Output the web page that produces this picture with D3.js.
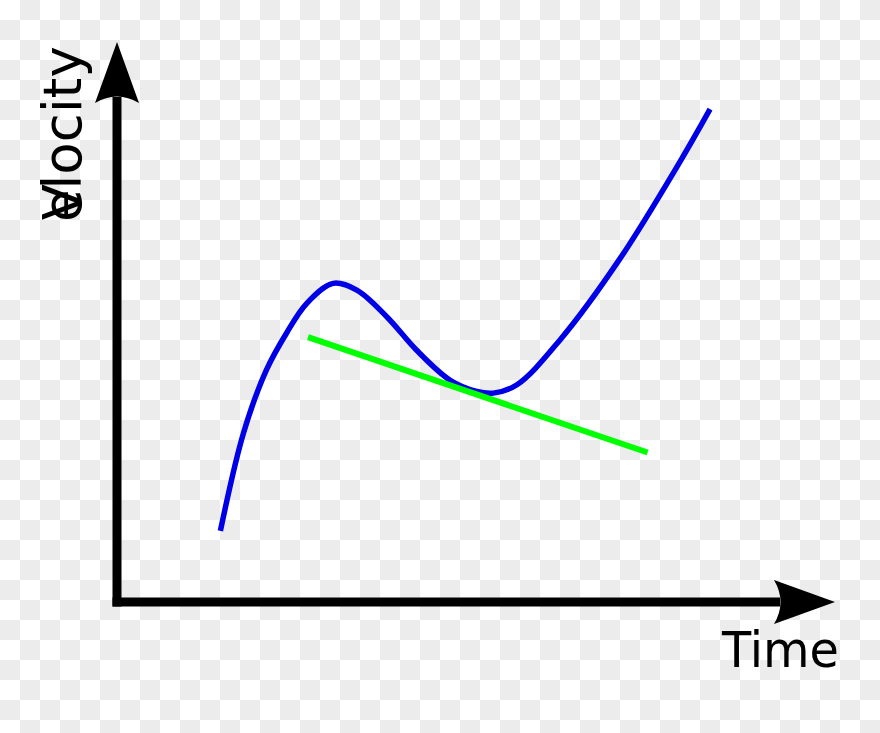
<!DOCTYPE html>
<html>
<head>
<meta charset="utf-8">
<script src="https://cdn.jsdelivr.net/npm/d3@7"></script>
<style>
  html, body { margin: 0; padding: 0; background: #fff; }
  svg { display: block; }
</style>
</head>
<body>
<svg id="chart"></svg>
<script>
// velocity curve (time in s, velocity in m/s)
const curveTime = [1.44, 1.76, 2.08, 2.36, 2.64, 3.01, 3.34, 3.76, 4.17, 4.64, 5.01, 5.24, 5.57, 6.17, 7.01, 7.84, 8.26];
const curveVelocity = [1.27, 3.01, 4.14, 4.80, 5.33, 5.69, 5.57, 5.09, 4.50, 3.96, 3.76, 3.73, 3.88, 4.68, 6.14, 7.86, 8.80];

// tangent line (green)
const tangentTime = [2.66, 7.39];
const tangentVelocity = [4.73, 2.67];

const axisLabels = { x: "Time", y: "Velocity" };

const width = 880;
const height = 733;

const svg = d3.select("#chart").attr("width", width).attr("height", height);

// checkered "transparent" background
const defs = svg.append("defs");
const pat = defs.append("pattern")
  .attr("id", "checker")
  .attr("width", 40).attr("height", 40)
  .attr("patternUnits", "userSpaceOnUse");
pat.append("rect").attr("width", 40).attr("height", 40).attr("fill", "#ffffff");
pat.append("rect").attr("x", 20).attr("y", 0).attr("width", 20).attr("height", 20).attr("fill", "#ececec");
pat.append("rect").attr("x", 0).attr("y", 20).attr("width", 20).attr("height", 20).attr("fill", "#ececec");
svg.append("rect").attr("width", width).attr("height", height).attr("fill", "url(#checker)");

// scales
const xScale = d3.scaleLinear().domain([0, 10]).range([117, 835]);
const yScale = d3.scaleLinear().domain([0, 10]).range([602, 42]);

// axes with arrowheads
const axisColor = "#000";
const arrowLen = 61;
const arrowHalf = 22;
const arrowPath = `M0,0 L${-arrowLen},${-arrowHalf} Q-48,0 ${-arrowLen},${arrowHalf} Z`;

// x axis
svg.append("line")
  .attr("x1", xScale(0) - 4.5).attr("y1", yScale(0))
  .attr("x2", xScale(10) - 55).attr("y2", yScale(0))
  .attr("stroke", axisColor).attr("stroke-width", 9);
svg.append("path")
  .attr("d", arrowPath)
  .attr("transform", `translate(${xScale(10)},${yScale(0)})`)
  .attr("fill", axisColor);

// y axis
svg.append("line")
  .attr("x1", xScale(0)).attr("y1", yScale(0) + 4.5)
  .attr("x2", xScale(0)).attr("y2", yScale(10) + 55)
  .attr("stroke", axisColor).attr("stroke-width", 9);
svg.append("path")
  .attr("d", arrowPath)
  .attr("transform", `translate(${xScale(0)},${yScale(10)}) rotate(-90)`)
  .attr("fill", axisColor);

// axis labels
svg.append("text")
  .attr("x", 722).attr("y", 667)
  .attr("font-family", "DejaVu Sans")
  .attr("font-size", 50)
  .attr("textLength", 117)
  .attr("lengthAdjust", "spacingAndGlyphs")
  .attr("fill", "#000")
  .text(axisLabels.x);

const yLabel = svg.append("text")
  .attr("transform", "translate(81,222) rotate(-90)")
  .attr("font-family", "DejaVu Sans")
  .attr("font-size", 53)
  .attr("fill", "#000");
yLabel.append("tspan").text(axisLabels.y.slice(0, 1));
yLabel.append("tspan").attr("dx", -34).text(axisLabels.y.slice(1));

// velocity curve
const curveData = curveTime.map((t, i) => [t, curveVelocity[i]]);
const line = d3.line()
  .x((d) => xScale(d[0]))
  .y((d) => yScale(d[1]))
  .curve(d3.curveCatmullRom.alpha(0.5));

svg.append("path")
  .datum(curveData)
  .attr("d", line)
  .attr("fill", "none")
  .attr("stroke", "#0000e6")
  .attr("stroke-width", 5.5);

// tangent
const tangentData = tangentTime.map((t, i) => [t, tangentVelocity[i]]);
svg.append("path")
  .datum(tangentData)
  .attr("d", d3.line().x((d) => xScale(d[0])).y((d) => yScale(d[1])))
  .attr("fill", "none")
  .attr("stroke", "#00ff00")
  .attr("stroke-width", 6);
</script>
</body>
</html>
